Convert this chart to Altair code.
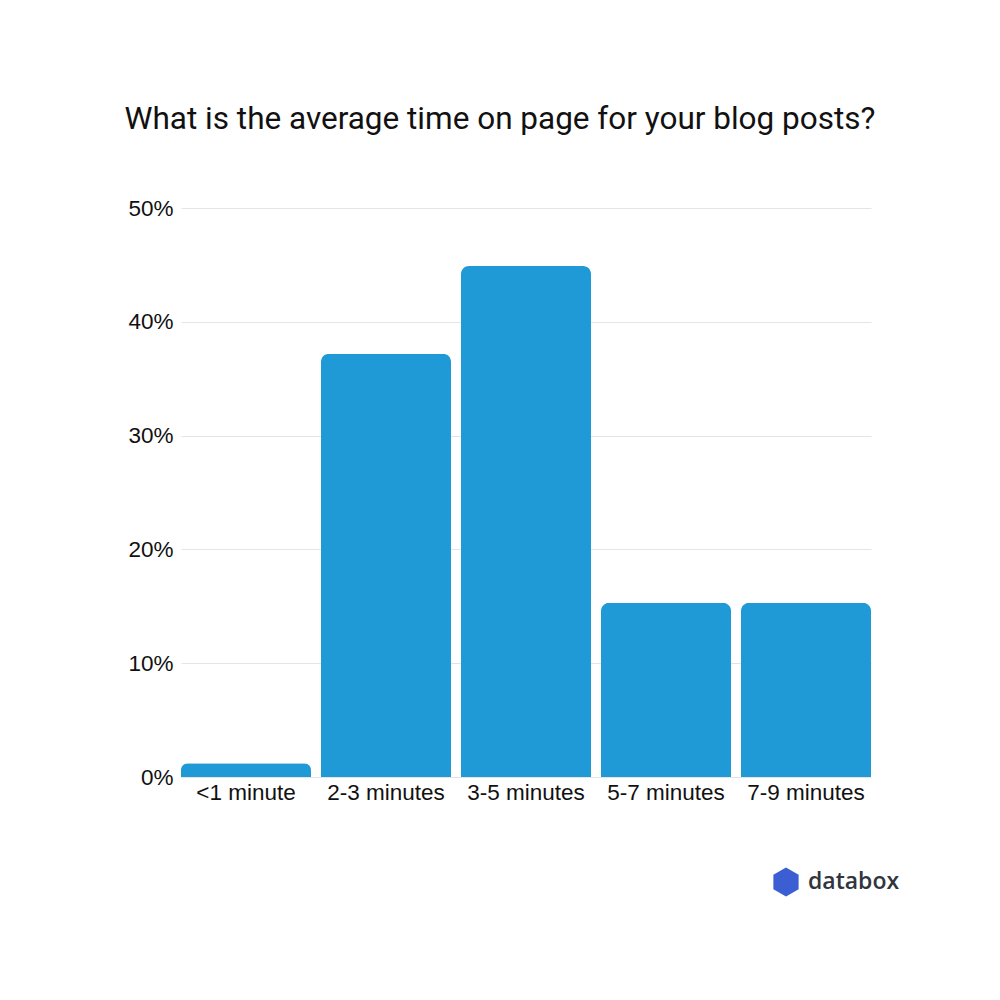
import altair as alt
import pandas as pd

categories = ["<1 minute", "2-3 minutes", "3-5 minutes", "5-7 minutes", "7-9 minutes"]
values = [0.012, 0.372, 0.449, 0.153, 0.153]
title_text = "What is the average time on page for your blog posts?"
brand = "databox"

df = pd.DataFrame({"cat": categories, "val": values})

W, H = 690, 569

bars = alt.Chart(df).mark_bar(
    color="#1f9ad6", cornerRadiusTopLeft=8, cornerRadiusTopRight=8
).encode(
    x=alt.X("cat:N", sort=categories, title=None,
            scale=alt.Scale(paddingInner=0.0714, paddingOuter=0),
            axis=alt.Axis(labelAngle=0, labelFont="Liberation Sans", labelFontSize=22.5,
                          labelColor="#111111", ticks=False, domain=False, labelPadding=4)),
    y=alt.Y("val:Q", title=None,
            scale=alt.Scale(domain=[0, 0.5]),
            axis=alt.Axis(format=".0%", values=[0, 0.1, 0.2, 0.3, 0.4, 0.5],
                          labelFont="Liberation Sans", labelFontSize=22.5, labelColor="#111111",
                          ticks=False, domain=False, labelPadding=8,
                          gridColor="#e4e4e4", gridWidth=1)),
)

title = alt.Chart(pd.DataFrame({"t": [title_text]})).mark_text(
    font="Roboto", fontSize=31.5, color="#111111", align="center", baseline="middle"
).encode(text="t:N", x=alt.value(319), y=alt.value(-88))

logo_hex = alt.Chart(pd.DataFrame({"b": [brand]})).mark_point(
    shape="M0,-1L0.866,-0.5L0.866,0.5L0,1L-0.866,0.5L-0.866,-0.5Z",
    filled=True, color="#3b5fd2", size=850, opacity=1
).encode(x=alt.value(605), y=alt.value(674))

logo_text = alt.Chart(pd.DataFrame({"b": [brand]})).mark_text(
    font="Open Sans", fontSize=23, fontWeight=600, color="#30353e", align="left", baseline="middle"
).encode(text="b:N", x=alt.value(627), y=alt.value(674))

chart = alt.layer(bars, title, logo_hex, logo_text).properties(
    width=W, height=H,
    background="white",
    autosize=alt.AutoSizeParams(type="none"),
    padding={"left": 173, "top": 200, "right": 121, "bottom": 215},
).configure_view(stroke=None)

chart.save("out.html", embed_options={"renderer": "svg", "actions": False})
